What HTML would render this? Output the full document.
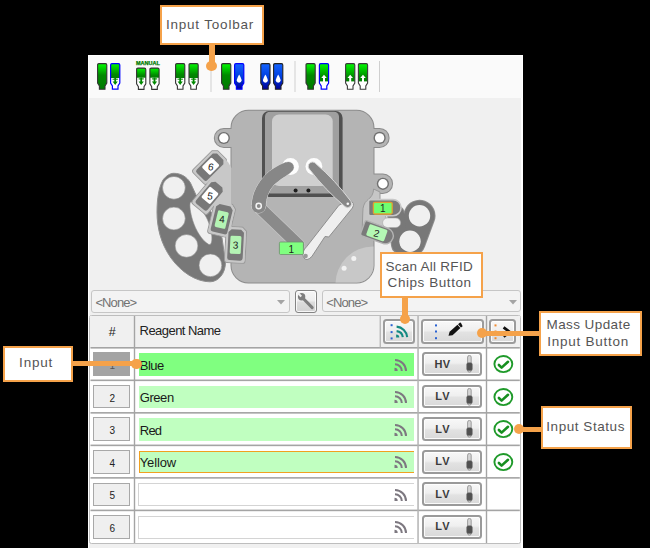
<!DOCTYPE html>
<html><head><meta charset="utf-8">
<style>
*{box-sizing:border-box;margin:0;padding:0}
html,body{width:650px;height:548px;background:#000;overflow:hidden}
body{position:relative;font-family:"Liberation Sans",sans-serif}
.a{position:absolute}
.t{position:absolute;white-space:nowrap;line-height:1}
.co{position:absolute;background:#fff;border:2px solid #f5a24a;z-index:20}
.ct{position:absolute;white-space:nowrap;line-height:1;font-size:13.5px;color:#555;z-index:21}
.ol{position:absolute;background:#f5a24a;z-index:20}
.od{position:absolute;background:#f5a24a;border-radius:50%;z-index:20}
.btn{position:absolute;border:2px solid #9c9c9c;border-radius:3.5px;background:linear-gradient(#f8f8f8,#efefef 45%,#e2e2e2 55%,#d9d9d9);box-shadow:inset 0 0 0 1px rgba(255,255,255,0.85)}
.num{position:absolute;left:93.2px;width:37px;height:23.5px;background:#efefef;border:1.5px solid #a8a8a8;font-size:10px;color:#222;text-align:center;line-height:20.5px}
.fld{position:absolute;left:138.7px;width:275.3px;height:22.5px;font-size:12.5px;color:#1a1a1a;line-height:22.5px;padding-left:2.5px;letter-spacing:-0.3px}
.lv{position:absolute;left:421.8px;width:60.6px;height:23.8px;border:2px solid #9a9a9a;border-radius:3.5px;background:linear-gradient(#f8f8f8,#efefef 45%,#e2e2e2 55%,#d9d9d9);box-shadow:inset 0 0 0 1px rgba(255,255,255,0.85)}
.lv b{position:absolute;left:11.6px;top:5.2px;font-size:11px;color:#3c3c3c;letter-spacing:0.2px;line-height:1}
</style></head><body>

<!-- panel -->
<div class="a" style="left:88px;top:55px;width:435px;height:493px;background:#f0f0f0;border:1px solid #fff;border-right:2px solid #fff;border-bottom:none"></div>
<div class="a" style="left:89px;top:56px;width:432.6px;height:41.8px;background:#fafafa"></div>

<!-- toolbar icons -->
<svg class="a" style="left:0;top:0" width="650" height="100" viewBox="0 0 650 100">
<defs>
 <linearGradient id="gG" x1="0" y1="0" x2="0" y2="1"><stop offset="0" stop-color="#00ff00"/><stop offset="0.45" stop-color="#008a00"/><stop offset="1" stop-color="#007a00"/></linearGradient>
 <linearGradient id="gG2" x1="0" y1="0" x2="0" y2="1"><stop offset="0" stop-color="#00ff00"/><stop offset="0.75" stop-color="#008a00"/><stop offset="1" stop-color="#008000"/></linearGradient>
 <linearGradient id="gB" x1="0" y1="0" x2="0" y2="1"><stop offset="0" stop-color="#1464ff"/><stop offset="0.5" stop-color="#0040e0"/><stop offset="1" stop-color="#000096"/></linearGradient>
 <path id="vial" d="M0.6,2 Q0.6,0.6 2,0.6 H8.4 Q9.8,0.6 9.8,2 V20 L8,23 V26.2 H2.4 V23 L0.6,20 Z"/>
 <clipPath id="vc"><use href="#vial"/></clipPath>
 <path id="vialS" d="M0.6,2 Q0.6,0.6 2,0.6 H8.4 Q9.8,0.6 9.8,2 V16.3 L8,19.1 V21.9 H2.4 V19.1 L0.6,16.3 Z"/>
 <clipPath id="vcS"><use href="#vialS"/></clipPath>
 <g id="vDS"><use href="#vialS" fill="#fff"/><rect x="0" y="0" width="11" height="10.2" fill="url(#gG2)" clip-path="url(#vcS)"/><path d="M4.3,10 V14 H2.6 L5.2,17.4 L7.8,14 H6.1 V10 Z" fill="#008800"/><path d="M2.6,11.4 H7.8" stroke="#008800" stroke-width="1.1"/><use href="#vialS" fill="none" stroke="#333" stroke-width="1.1"/></g>
 <g id="vG"><use href="#vial" fill="url(#gG)" stroke="#333" stroke-width="1.1"/></g>
 <g id="vB"><use href="#vial" fill="url(#gB)" stroke="#222" stroke-width="1.1"/><path d="M5.2,11.5 C5.2,11.5 2.8,15.5 2.8,17.3 A2.4,2.4 0 0 0 7.6,17.3 C7.6,15.5 5.2,11.5 5.2,11.5 Z" fill="#fff"/></g>
 <g id="vBo"><use href="#vial" fill="url(#gB)" stroke="#0000ff" stroke-width="1.2"/><path d="M5.2,11.5 C5.2,11.5 2.8,15.5 2.8,17.3 A2.4,2.4 0 0 0 7.6,17.3 C7.6,15.5 5.2,11.5 5.2,11.5 Z" fill="#fff"/></g>
 <g id="vD"><use href="#vial" fill="#fff"/><rect x="0" y="0" width="11" height="15" fill="url(#gG2)" clip-path="url(#vc)"/><path d="M4.3,15 V18.5 H2.6 L5.2,22 L7.8,18.5 H6.1 V15 Z" fill="#008800"/><path d="M2.5,16.2 H7.9" stroke="#008800" stroke-width="1"/></g>
 <g id="vU"><use href="#vial" fill="#fff"/><rect x="0" y="0" width="11" height="18.4" fill="url(#gG2)" clip-path="url(#vc)"/><path d="M4.2,22.5 V15 H2.4 L5.2,11.8 L8,15 H6.2 V22.5 Z" fill="#fff"/></g>
</defs>
<use href="#vG" x="97" y="63"/>
<g><use href="#vD" x="110" y="63"/><use href="#vial" x="110" y="63" fill="none" stroke="#0000ff" stroke-width="1.2"/></g>
<text x="136" y="64.6" font-family="Liberation Sans" font-weight="bold" font-size="5" fill="#007a00" stroke="#007a00" stroke-width="0.25" textLength="23.8" lengthAdjust="spacingAndGlyphs">MANUAL</text>
<use href="#vDS" x="136" y="67.5"/>
<use href="#vDS" x="149.3" y="67.5"/>
<g><use href="#vD" x="175" y="63"/><use href="#vial" x="175" y="63" fill="none" stroke="#333" stroke-width="1.1"/></g>
<g><use href="#vD" x="188.4" y="63"/><use href="#vial" x="188.4" y="63" fill="none" stroke="#333" stroke-width="1.1"/></g>
<rect x="210.5" y="61" width="1" height="31" fill="#cfcfcf"/>
<use href="#vG" x="221" y="63"/>
<use href="#vBo" x="234" y="63"/>
<use href="#vB" x="260.2" y="63"/>
<use href="#vB" x="273" y="63"/>
<rect x="294.5" y="61" width="1" height="31" fill="#cfcfcf"/>
<use href="#vG" x="305.4" y="63"/>
<g><use href="#vU" x="318.8" y="63"/><use href="#vial" x="318.8" y="63" fill="none" stroke="#0000ff" stroke-width="1.2"/></g>
<g><use href="#vU" x="345" y="63"/><use href="#vial" x="345" y="63" fill="none" stroke="#3a3a3a" stroke-width="1.1"/></g>
<g><use href="#vU" x="357.8" y="63"/><use href="#vial" x="357.8" y="63" fill="none" stroke="#3a3a3a" stroke-width="1.1"/></g>
<rect x="379" y="61" width="1" height="31" fill="#cfcfcf"/>
</svg>


<!-- DEVICE -->
<svg class="a" style="left:0;top:0" width="650" height="548" viewBox="0 0 650 548">
<defs>
 <clipPath id="bodyclip"><rect x="231.5" y="110.8" width="142" height="171.7" rx="17"/></clipPath>
</defs>
<!-- left rack -->
<g>
 <path d="M173.9,173.3 C181,173.3 187,177 190.5,183 L196,195 L212,213 L222,238 L225.5,262 C225.5,274 218,281.8 210,281.8 C196,281.8 181,272 171,258 C161,244 157,228 157,212 C157,198 159,187 163,180 C166,176 170,173.3 173.9,173.3 Z" fill="#787878" stroke="#8e8e8e" stroke-width="1"/>
 <g fill="#f0f0f0" stroke="#8a8a8a" stroke-width="0.6">
 <circle cx="173.9" cy="187.8" r="11.4"/>
 <circle cx="173.9" cy="218.5" r="11.4"/>
 <circle cx="186.5" cy="245.9" r="11.4"/>
 <circle cx="210.4" cy="265.3" r="11.4"/>
 <path d="M190.5,202 C193.5,201.5 199,207 203,212 C207.5,218 211,227 211.8,236 C212.3,242 211,245.5 208.5,244.3 C202,240.5 196,231 192.5,220 C190.5,213 189,205 190.5,202 Z"/>
 </g>
</g>
<!-- right rack -->
<g>
 <path d="M419.5,215.7 L410,241.3" fill="none" stroke="#8e8e8e" stroke-width="32" stroke-linecap="round"/>
 <path d="M396,214 L400,245" fill="none" stroke="#8e8e8e" stroke-width="18" stroke-linecap="round"/>
 <path d="M419.5,215.7 L410,241.3" fill="none" stroke="#787878" stroke-width="30" stroke-linecap="round"/>
 <path d="M396,214 L400,245" fill="none" stroke="#787878" stroke-width="16" stroke-linecap="round"/>
 <circle cx="419.5" cy="215.7" r="10.7" fill="#f0f0f0"/>
 <circle cx="410" cy="241.3" r="10.7" fill="#f0f0f0"/>
</g>
<!-- body outline + fill -->
<g fill="#8c8c8c" stroke="#8c8c8c" stroke-width="2" stroke-linejoin="round">
 <rect x="231.5" y="110.8" width="142" height="171.7" rx="17"/>
 <path d="M233,129 H223.8 A9,9 0 0 0 223.8,147 H233 Z"/>
 <path d="M372,128.9 H379.6 A9,9 0 0 1 379.6,146.9 H372 Z"/>
 <path d="M372,174.6 H382.9 A9.2,9.2 0 0 1 382.9,193 H372 Z"/>
</g>
<g fill="#b4b4b4">
 <rect x="231.5" y="110.8" width="142" height="171.7" rx="17"/>
 <path d="M233,129 H223.8 A9,9 0 0 0 223.8,147 H233 Z"/>
 <path d="M372,128.9 H379.6 A9,9 0 0 1 379.6,146.9 H372 Z"/>
 <path d="M372,174.6 H382.9 A9.2,9.2 0 0 1 382.9,193 H372 Z"/>
</g>
<g>
 <circle cx="223.8" cy="138" r="6.1" fill="#707070"/><circle cx="223.8" cy="138" r="4.7" fill="#fff"/>
 <circle cx="379.6" cy="137.9" r="6.1" fill="#707070"/><circle cx="379.6" cy="137.9" r="4.7" fill="#fff"/>
 <circle cx="382.9" cy="183.8" r="6.1" fill="#707070"/><circle cx="382.9" cy="183.8" r="4.7" fill="#fff"/>
</g>
<!-- bottom right light circle -->
<g clip-path="url(#bodyclip)">
 <circle cx="373" cy="284" r="37.5" fill="#c8c8c8"/>
</g>
<circle cx="353.8" cy="258.5" r="2.5" fill="#f2f2f2"/>
<circle cx="344.1" cy="268.2" r="2.5" fill="#f2f2f2"/>
<!-- inner frame -->
<rect x="262" y="111" width="80.6" height="86" rx="7" fill="#505050"/>
<rect x="265" y="111.8" width="74" height="81.7" rx="5" fill="#a0a0a0"/>
<rect x="272" y="114.5" width="60.7" height="71.5" rx="7" fill="#cfcfcf"/>
<circle cx="295.6" cy="190.5" r="2" fill="#1e1e1e"/>
<circle cx="308.4" cy="190.5" r="2" fill="#1e1e1e"/>
<!-- white rings -->
<circle cx="290.5" cy="166.5" r="8.4" fill="#fdfdfd"/>
<circle cx="313.9" cy="166.5" r="8.4" fill="#fdfdfd"/>
<!-- left lower arm -->
<path d="M259.5,207.5 L298.5,245" stroke="#c4c4c4" stroke-width="13" stroke-linecap="round"/>
<path d="M259.5,207.5 L298.5,245" stroke="#8a8a8a" stroke-width="11.5" stroke-linecap="round"/>
<!-- left upper arm -->
<g fill="#878787" stroke="#dadada" stroke-width="1">
 <path d="M286,162.3 C277,166 270,170 265,175.5 C258,183 252,193 251.7,206 L265.7,206 C266,198 268.5,191 273,186 C277.5,181 283,178 290.5,172.6 Z"/>
 <circle cx="288.4" cy="167.3" r="5.3"/>
 <circle cx="258.7" cy="206" r="7"/>
</g>
<g fill="#878787">
 <path d="M286,162.3 C277,166 270,170 265,175.5 C258,183 252,193 251.7,206 L265.7,206 C266,198 268.5,191 273,186 C277.5,181 283,178 290.5,172.6 Z"/>
 <circle cx="288.4" cy="167.3" r="5.3"/>
 <circle cx="258.7" cy="206" r="7"/>
</g>
<circle cx="258.7" cy="206" r="3.4" fill="#f4f4f4"/>
<circle cx="258.7" cy="206" r="1.9" fill="#8a8a8a"/>
<!-- right lower arm -->
<path d="M349.5,199.8 L339,205.2 L307.1,246.1 Q301,252 303.5,257.5 Q306.5,262 311.8,256.6 L325,236.5 L328.8,237 L352.4,208 Q355.5,203 349.5,199.8 Z" fill="#efefef" stroke="#8e8e8e" stroke-width="1"/>
<circle cx="305.6" cy="256" r="2.2" fill="#9a9a9a"/>
<!-- right upper arm -->
<path d="M315.6,163.4 Q335.35,180.45 350.9,201.3 A4,4 0 0 1 345.1,206.7 Q325.15,189.85 309.4,169.2 A4.2,4.2 0 0 1 315.6,163.4 Z" fill="#878787" stroke="#d8d8d8" stroke-width="1"/>
<circle cx="347.8" cy="203.8" r="1.3" fill="#fafafa"/>
<!-- label 1 bottom -->
<rect x="279.4" y="242" width="24" height="12.5" rx="1.2" fill="#80ff80" stroke="#6e8e6e" stroke-width="0.8"/>
<text x="291.4" y="252.6" font-family="Liberation Sans" font-size="10" fill="#222" text-anchor="middle">1</text>

<!-- left holders backing -->
<g fill="#c8c8c8" stroke="#9a9a9a" stroke-width="1">
 <path d="M-10.0,-12.5 L-6.0,-16.5 H6.0 L10.0,-12.5 V14.0 Q10.0,16.5 7.5,16.5 H-7.5 Q-10.0,16.5 -10.0,14.0 Z" transform="translate(210.3,166.6) rotate(45)"/>
 <path d="M-10.0,-13.0 L-6.0,-17.0 H6.0 L10.0,-13.0 V14.5 Q10.0,17.0 7.5,17.0 H-7.5 Q-10.0,17.0 -10.0,14.5 Z" transform="translate(209.6,195.8) rotate(40)"/>
 <path d="M-11.0,-12.75 L-7.0,-16.75 H7.0 L11.0,-12.75 V14.25 Q11.0,16.75 8.5,16.75 H-8.5 Q-11.0,16.75 -11.0,14.25 Z" transform="translate(221.8,219.1) rotate(13.5)"/>
 <path d="M-10.25,-14.0 L-6.25,-18.0 H6.25 L10.25,-14.0 V15.5 Q10.25,18.0 7.75,18.0 H-7.75 Q-10.25,18.0 -10.25,15.5 Z" transform="translate(235.6,244.9) rotate(3)"/>
</g>
<path d="M210.3,166.6 L222,157 L228,162 L231.5,168 L231.5,262 L235.6,244.9 L221.8,219.1 L209.6,195.8 Z" fill="#c8c8c8"/>
<g fill="#c8c8c8">
 <path d="M-9.5,-12.0 L-5.5,-16.0 H5.5 L9.5,-12.0 V13.5 Q9.5,16.0 7.0,16.0 H-7.0 Q-9.5,16.0 -9.5,13.5 Z" transform="translate(210.3,166.6) rotate(45)"/>
 <path d="M-9.5,-12.5 L-5.5,-16.5 H5.5 L9.5,-12.5 V14.0 Q9.5,16.5 7.0,16.5 H-7.0 Q-9.5,16.5 -9.5,14.0 Z" transform="translate(209.6,195.8) rotate(40)"/>
 <path d="M-10.5,-12.25 L-6.5,-16.25 H6.5 L10.5,-12.25 V13.75 Q10.5,16.25 8.0,16.25 H-8.0 Q-10.5,16.25 -10.5,13.75 Z" transform="translate(221.8,219.1) rotate(13.5)"/>
 <path d="M-9.75,-13.5 L-5.75,-17.5 H5.75 L9.75,-13.5 V15.0 Q9.75,17.5 7.25,17.5 H-7.25 Q-9.75,17.5 -9.75,15.0 Z" transform="translate(235.6,244.9) rotate(3)"/>
</g>
<!-- left holders -->
<g transform="translate(210.3,166.6) rotate(45)">
 <path d="M-7.5,-11.0 L-4.5,-14.0 H4.5 L7.5,-11.0 V11.5 Q7.5,14.0 5.0,14.0 H-5.0 Q-7.5,14.0 -7.5,11.5 Z" fill="#787878"/>
 <rect x="-5.8" y="-7.5" width="11.6" height="14" rx="1.5" fill="#fff"/>
</g>
<g transform="translate(209.6,195.8) rotate(40)">
 <path d="M-7.5,-11.5 L-4.5,-14.5 H4.5 L7.5,-11.5 V12.0 Q7.5,14.5 5.0,14.5 H-5.0 Q-7.5,14.5 -7.5,12.0 Z" fill="#787878"/>
 <rect x="-5.8" y="-7.5" width="11.6" height="14" rx="1.5" fill="#fff"/>
</g>
<g transform="translate(221.8,219.1) rotate(13.5)">
 <path d="M-8.5,-11.25 L-5.5,-14.25 H5.5 L8.5,-11.25 V11.75 Q8.5,14.25 6.0,14.25 H-6.0 Q-8.5,14.25 -8.5,11.75 Z" fill="#787878"/>
 <rect x="-5.5" y="-8.0" width="11" height="17" rx="1.5" fill="#b4f4b4"/>
</g>
<g transform="translate(235.6,244.9) rotate(3)">
 <path d="M-7.75,-12.5 L-4.75,-15.5 H4.75 L7.75,-12.5 V13.0 Q7.75,15.5 5.25,15.5 H-5.25 Q-7.75,15.5 -7.75,13.0 Z" fill="#787878"/>
 <rect x="-5.5" y="-9.0" width="11" height="18" rx="1.5" fill="#b4f4b4"/>
</g>
<g font-family="Liberation Sans" font-size="10" fill="#222" text-anchor="middle">
 <text transform="translate(210.3,170.2) rotate(11.2)">6</text>
 <text transform="translate(209.6,199.4) rotate(10.0)">5</text>
 <text transform="translate(221.8,222.7) rotate(3.4)">4</text>
 <text transform="translate(235.6,248.5) rotate(0.8)">3</text>
</g>

<!-- right holders backing -->
<path d="M373.6,189 Q373.5,196 367,200.5 Q362.8,204 362.8,212 L362,236 L378,240 L386,227.5 L386,217.5 L380,206 L380,192 Z" fill="#c6c6c6" stroke="#9a9a9a" stroke-width="1"/>
<rect x="382.6" y="218" width="18" height="9.5" rx="4.7" fill="#f0f0f0" stroke="#a8a8a8" stroke-width="0.6"/>
<!-- holder 1 -->
<path d="M370.5,199.6 H393 A8,8 0 0 1 393,215.7 H370.5 Q368.5,215.7 368.5,213.7 V201.6 Q368.5,199.6 370.5,199.6 Z" fill="#7a7a7a" stroke="#c8c8c8" stroke-width="1.6"/>
<rect x="373.4" y="202.3" width="18.8" height="11.7" rx="1.5" fill="#70ff70" stroke="#e0a030" stroke-width="1.3"/>
<text x="382.8" y="212.2" font-family="Liberation Sans" font-size="10" fill="#222" text-anchor="middle">1</text>
<!-- holder 2 -->
<g transform="translate(377.8,233.1) rotate(20)">
 <path d="M-14,-8 H8 A8,8 0 0 1 8,8 H-14 Q-16,8 -16,6 V-6 Q-16,-8 -14,-8 Z" fill="#7a7a7a" stroke="#b4b4b4" stroke-width="1.4"/>
 <rect x="-10.5" y="-6" width="19" height="12" rx="1.5" fill="#b4f8b4"/>
 <text x="-1" y="4" font-family="Liberation Sans" font-size="10" fill="#222" text-anchor="middle" transform="rotate(-5)">2</text>
</g>
</svg>



<!-- dropdowns -->
<div class="a" style="left:91px;top:290.4px;width:198.6px;height:22.3px;border:1.5px solid #c6c6c6;border-radius:3px;background:#f3f3f3"></div>
<div class="t" style="left:95.4px;top:295.6px;font-size:13px;color:#727272;letter-spacing:-0.9px">&lt;None&gt;</div>
<svg class="a" style="left:277px;top:300.3px" width="8" height="5"><path d="M0,0 H8 L4,4.5 Z" fill="#a4a4a4"/></svg>
<div class="a" style="left:295px;top:290.1px;width:21.6px;height:22.7px;border:1.6px solid #848484;border-radius:3px;background:linear-gradient(#f6f6f6,#eeeeee 45%,#dcdcdc 55%,#d2d2d2);box-shadow:inset 0 0 0 1px rgba(255,255,255,0.8)"></div>
<svg class="a" style="left:294.8px;top:290px" width="23" height="23" viewBox="0 0 23 23"><path d="M7.5,7.8 L17.2,17.6" stroke="#7e7e7e" stroke-width="3" stroke-linecap="round"/><circle cx="6.6" cy="6.8" r="3.7" fill="#7e7e7e"/><rect x="-1.1" y="-3" width="2.2" height="4" fill="#efefef" transform="translate(5.5,5.7) rotate(-45)"/></svg>
<div class="a" style="left:322.2px;top:290.4px;width:199px;height:22px;border:1.5px solid #c6c6c6;border-radius:3px;background:#f3f3f3"></div>
<div class="t" style="left:326.3px;top:295.6px;font-size:13px;color:#727272;letter-spacing:-0.9px">&lt;None&gt;</div>
<svg class="a" style="left:508.5px;top:300px" width="8" height="5"><path d="M0,0 H8 L4,4.5 Z" fill="#a4a4a4"/></svg>
<!-- table -->
<div class="a" style="left:89px;top:315px;width:432px;height:229px;background:#fff;border:1px solid #bdbdbd;border-radius:2.5px"></div>
<div class="a" style="left:90px;top:316px;width:430px;height:31.5px;background:#f0f0f0"></div>
<svg class="a" style="left:0;top:0" width="650" height="548" viewBox="0 0 650 548">
<g fill="#a4a4a4">
<rect x="90.5" y="347.00" width="429.3" height="1.6"/>
<rect x="90.5" y="379.52" width="429.3" height="1.6"/>
<rect x="90.5" y="412.04" width="429.3" height="1.6"/>
<rect x="90.5" y="444.56" width="429.3" height="1.6"/>
<rect x="90.5" y="477.08" width="429.3" height="1.6"/>
<rect x="90.5" y="509.60" width="429.3" height="1.6"/>
<rect x="133.8" y="316" width="1.4" height="227"/>
<rect x="417.3" y="316" width="1.5" height="227" fill="#b4b4b4"/>
<rect x="485.8" y="316" width="1.4" height="227"/>
<rect x="379.6" y="316" width="1.3" height="31.5" fill="#b4b4b4"/>
</g>
</svg>
<div class="t" style="left:108.8px;top:326px;font-size:12.5px;color:#222">#</div>
<div class="t" style="left:139.6px;top:324.2px;font-size:13px;color:#222;letter-spacing:-0.55px">Reagent Name</div>
<div class="btn" style="left:382.6px;top:318.6px;width:32.5px;height:25.9px"></div>
<svg class="a" style="left:382.6px;top:318.6px" width="33" height="26" viewBox="0 0 33 26">
 <g fill="#2a62d2"><rect x="7.6" y="5.2" width="2" height="2"/><rect x="7.6" y="12.1" width="2" height="2"/><rect x="7.6" y="18.4" width="2" height="2"/></g>
 <g fill="none" stroke="#148a82" stroke-width="2.1" stroke-linecap="butt">
  <path d="M13.6,7.6 A11.6,11.6 0 0 1 24.2,18.2"/>
  <path d="M13.6,12.1 A7,7 0 0 1 19.8,18.2"/>
 </g>
 <path d="M13.1,15.4 A3.2,3.2 0 0 1 16.3,18.6 H13.1 Z" fill="#148a82"/>
</svg>
<div class="btn" style="left:420.9px;top:318.8px;width:62.7px;height:25.6px"></div>
<svg class="a" style="left:420.9px;top:318.8px" width="63" height="26" viewBox="0 0 63 26">
 <g fill="#2a62d2"><rect x="14" y="5.4" width="2" height="2"/><rect x="14" y="11.5" width="2" height="2"/><rect x="14" y="18.2" width="2" height="2"/></g>
 <path d="M27.5,16.8 L28.63,12.86 L36.43,5.82 L39.37,9.1 L31.57,16.14 Z" fill="#111"/>
 <path d="M37.03,5.26 L38.73,3.86 Q39.4,3.3 40,3.9 L41.67,7.14 L39.97,8.54 Z" fill="#111"/>
</svg>
<div class="btn" style="left:489.2px;top:318.8px;width:27.2px;height:25.6px"></div>
<svg class="a" style="left:489.2px;top:318.8px" width="28" height="26" viewBox="0 0 28 26">
 <g fill="#f08a30"><rect x="5.5" y="5.4" width="2" height="2"/><rect x="5.5" y="11.5" width="2" height="2"/><rect x="5.5" y="18.2" width="2" height="2"/></g>
 <path d="M14.6,8.3 L20.6,13 L14.6,17.7" fill="none" stroke="#111" stroke-width="2.8"/>
</svg>
<div class="num" style="top:352.4px;background:#a4a4a4;border-color:#a4a4a4"></div>
<div class="t" style="left:109.2px;top:361.0px;font-size:10px;color:#555;width:6px;text-align:center">1</div>
<div class="fld" style="top:353.3px;background:#80ff80;"></div>
<div class="t" style="left:139.8px;top:358.6px;font-size:13px;color:#1a1a1a;letter-spacing:-0.5px">Blue</div>
<svg class="a" style="left:394px;top:358.6px" width="13" height="13" viewBox="0 0 13 13">
 <g fill="none" stroke="#7d7880" stroke-width="2">
  <path d="M1,1 A11,11 0 0 1 12,12"/>
  <path d="M1,5.2 A6.8,6.8 0 0 1 7.8,12"/>
 </g>
 <path d="M0.5,8.8 A3.2,3.2 0 0 1 3.7,12 H0.5 Z" fill="#7d7880"/>
</svg>
<div class="lv" style="top:352.2px"><b style="left:10.6px;top:4.5px;letter-spacing:0.4px">HV</b></div>
<svg class="a" style="left:465.5px;top:355.2px" width="7" height="18" viewBox="0 0 7 18">
 <rect x="1.6" y="0.4" width="3.6" height="16.8" rx="1.8" fill="#d4d4d4" stroke="#8c8c8c" stroke-width="0.8"/>
 <rect x="0.7" y="7.8" width="5.6" height="7.8" rx="1.6" fill="#505050" stroke="#6a6a6a" stroke-width="0.5"/>
</svg>
<svg class="a" style="left:493px;top:354.1px" width="21" height="21" viewBox="0 0 21 21">
 <ellipse cx="10.35" cy="10.1" rx="8.95" ry="8.05" fill="none" stroke="#1f9a2a" stroke-width="1.9"/>
 <path d="M5.9,11 L8.6,13.6 L15,7.8" fill="none" stroke="#168f1f" stroke-width="2.6" stroke-linecap="round" stroke-linejoin="round"/>
</svg>
<div class="num" style="top:384.9px"></div>
<div class="t" style="left:109.2px;top:393.5px;font-size:10px;color:#222;width:6px;text-align:center">2</div>
<div class="fld" style="top:385.8px;background:#c0ffc0;"></div>
<div class="t" style="left:139.8px;top:391.1px;font-size:13px;color:#1a1a1a;letter-spacing:-0.45px">Green</div>
<svg class="a" style="left:394px;top:391.1px" width="13" height="13" viewBox="0 0 13 13">
 <g fill="none" stroke="#7d7880" stroke-width="2">
  <path d="M1,1 A11,11 0 0 1 12,12"/>
  <path d="M1,5.2 A6.8,6.8 0 0 1 7.8,12"/>
 </g>
 <path d="M0.5,8.8 A3.2,3.2 0 0 1 3.7,12 H0.5 Z" fill="#7d7880"/>
</svg>
<div class="lv" style="top:384.7px"><b style="left:11.5px;top:4.6px;letter-spacing:1.1px">LV</b></div>
<svg class="a" style="left:465.5px;top:387.7px" width="7" height="18" viewBox="0 0 7 18">
 <rect x="1.6" y="0.4" width="3.6" height="16.8" rx="1.8" fill="#d4d4d4" stroke="#8c8c8c" stroke-width="0.8"/>
 <rect x="0.7" y="7.8" width="5.6" height="7.8" rx="1.6" fill="#505050" stroke="#6a6a6a" stroke-width="0.5"/>
</svg>
<svg class="a" style="left:493px;top:386.6px" width="21" height="21" viewBox="0 0 21 21">
 <ellipse cx="10.35" cy="10.1" rx="8.95" ry="8.05" fill="none" stroke="#1f9a2a" stroke-width="1.9"/>
 <path d="M5.9,11 L8.6,13.6 L15,7.8" fill="none" stroke="#168f1f" stroke-width="2.6" stroke-linecap="round" stroke-linejoin="round"/>
</svg>
<div class="num" style="top:417.4px"></div>
<div class="t" style="left:109.2px;top:426.0px;font-size:10px;color:#222;width:6px;text-align:center">3</div>
<div class="fld" style="top:418.3px;background:#c0ffc0;"></div>
<div class="t" style="left:139.8px;top:423.6px;font-size:13px;color:#1a1a1a;letter-spacing:-0.8px">Red</div>
<svg class="a" style="left:394px;top:423.6px" width="13" height="13" viewBox="0 0 13 13">
 <g fill="none" stroke="#7d7880" stroke-width="2">
  <path d="M1,1 A11,11 0 0 1 12,12"/>
  <path d="M1,5.2 A6.8,6.8 0 0 1 7.8,12"/>
 </g>
 <path d="M0.5,8.8 A3.2,3.2 0 0 1 3.7,12 H0.5 Z" fill="#7d7880"/>
</svg>
<div class="lv" style="top:417.2px"><b style="left:11.5px;top:4.6px;letter-spacing:1.1px">LV</b></div>
<svg class="a" style="left:465.5px;top:420.2px" width="7" height="18" viewBox="0 0 7 18">
 <rect x="1.6" y="0.4" width="3.6" height="16.8" rx="1.8" fill="#d4d4d4" stroke="#8c8c8c" stroke-width="0.8"/>
 <rect x="0.7" y="7.8" width="5.6" height="7.8" rx="1.6" fill="#505050" stroke="#6a6a6a" stroke-width="0.5"/>
</svg>
<svg class="a" style="left:493px;top:419.1px" width="21" height="21" viewBox="0 0 21 21">
 <ellipse cx="10.35" cy="10.1" rx="8.95" ry="8.05" fill="none" stroke="#1f9a2a" stroke-width="1.9"/>
 <path d="M5.9,11 L8.6,13.6 L15,7.8" fill="none" stroke="#168f1f" stroke-width="2.6" stroke-linecap="round" stroke-linejoin="round"/>
</svg>
<div class="num" style="top:450.0px"></div>
<div class="t" style="left:109.2px;top:458.6px;font-size:10px;color:#222;width:6px;text-align:center">4</div>
<div class="fld" style="top:450.9px;background:#c0ffc0;border:1.5px solid #f0a020;border-right:none;"></div>
<div class="t" style="left:139.8px;top:456.2px;font-size:13px;color:#1a1a1a;letter-spacing:-0.15px">Yellow</div>
<svg class="a" style="left:394px;top:456.2px" width="13" height="13" viewBox="0 0 13 13">
 <g fill="none" stroke="#7d7880" stroke-width="2">
  <path d="M1,1 A11,11 0 0 1 12,12"/>
  <path d="M1,5.2 A6.8,6.8 0 0 1 7.8,12"/>
 </g>
 <path d="M0.5,8.8 A3.2,3.2 0 0 1 3.7,12 H0.5 Z" fill="#7d7880"/>
</svg>
<div class="lv" style="top:449.8px"><b style="left:11.5px;top:4.6px;letter-spacing:1.1px">LV</b></div>
<svg class="a" style="left:465.5px;top:452.8px" width="7" height="18" viewBox="0 0 7 18">
 <rect x="1.6" y="0.4" width="3.6" height="16.8" rx="1.8" fill="#d4d4d4" stroke="#8c8c8c" stroke-width="0.8"/>
 <rect x="0.7" y="7.8" width="5.6" height="7.8" rx="1.6" fill="#505050" stroke="#6a6a6a" stroke-width="0.5"/>
</svg>
<svg class="a" style="left:493px;top:451.7px" width="21" height="21" viewBox="0 0 21 21">
 <ellipse cx="10.35" cy="10.1" rx="8.95" ry="8.05" fill="none" stroke="#1f9a2a" stroke-width="1.9"/>
 <path d="M5.9,11 L8.6,13.6 L15,7.8" fill="none" stroke="#168f1f" stroke-width="2.6" stroke-linecap="round" stroke-linejoin="round"/>
</svg>
<div class="num" style="top:482.5px"></div>
<div class="t" style="left:109.2px;top:491.1px;font-size:10px;color:#222;width:6px;text-align:center">5</div>
<div class="fld" style="left:138.2px;width:275.8px;top:483.2px;height:23.2px;background:#fff;border:1.5px solid #d4d4d4;border-right:none"></div>
<svg class="a" style="left:394px;top:488.7px" width="13" height="13" viewBox="0 0 13 13">
 <g fill="none" stroke="#7d7880" stroke-width="2">
  <path d="M1,1 A11,11 0 0 1 12,12"/>
  <path d="M1,5.2 A6.8,6.8 0 0 1 7.8,12"/>
 </g>
 <path d="M0.5,8.8 A3.2,3.2 0 0 1 3.7,12 H0.5 Z" fill="#7d7880"/>
</svg>
<div class="lv" style="top:482.3px"><b style="left:11.5px;top:4.6px;letter-spacing:1.1px">LV</b></div>
<svg class="a" style="left:465.5px;top:485.3px" width="7" height="18" viewBox="0 0 7 18">
 <rect x="1.6" y="0.4" width="3.6" height="16.8" rx="1.8" fill="#d4d4d4" stroke="#8c8c8c" stroke-width="0.8"/>
 <rect x="0.7" y="7.8" width="5.6" height="7.8" rx="1.6" fill="#505050" stroke="#6a6a6a" stroke-width="0.5"/>
</svg>
<div class="num" style="top:515.0px"></div>
<div class="t" style="left:109.2px;top:523.6px;font-size:10px;color:#222;width:6px;text-align:center">6</div>
<div class="fld" style="left:138.2px;width:275.8px;top:515.7px;height:23.2px;background:#fff;border:1.5px solid #d4d4d4;border-right:none"></div>
<svg class="a" style="left:394px;top:521.2px" width="13" height="13" viewBox="0 0 13 13">
 <g fill="none" stroke="#7d7880" stroke-width="2">
  <path d="M1,1 A11,11 0 0 1 12,12"/>
  <path d="M1,5.2 A6.8,6.8 0 0 1 7.8,12"/>
 </g>
 <path d="M0.5,8.8 A3.2,3.2 0 0 1 3.7,12 H0.5 Z" fill="#7d7880"/>
</svg>
<div class="lv" style="top:514.8px"><b style="left:11.5px;top:4.6px;letter-spacing:1.1px">LV</b></div>
<svg class="a" style="left:465.5px;top:517.8px" width="7" height="18" viewBox="0 0 7 18">
 <rect x="1.6" y="0.4" width="3.6" height="16.8" rx="1.8" fill="#d4d4d4" stroke="#8c8c8c" stroke-width="0.8"/>
 <rect x="0.7" y="7.8" width="5.6" height="7.8" rx="1.6" fill="#505050" stroke="#6a6a6a" stroke-width="0.5"/>
</svg>

<!-- CALLOUTS -->
<div class="co" style="left:160px;top:5px;width:103.5px;height:40px"></div>
<div class="ct" style="left:165.9px;top:18.4px;letter-spacing:0.8px">Input Toolbar</div>
<div class="ol" style="left:208.5px;top:44px;width:6px;height:20px"></div>
<div class="od" style="left:206px;top:60.8px;width:11px;height:10.5px"></div>

<div class="co" style="left:380.2px;top:252.4px;width:102.4px;height:45.2px"></div>
<div class="ct" style="left:385.4px;top:260px;letter-spacing:0.27px">Scan All RFID</div>
<div class="ct" style="left:387.6px;top:276.3px;letter-spacing:0.56px">Chips Button</div>
<div class="ol" style="left:402.3px;top:297px;width:5.5px;height:20px"></div>
<div class="od" style="left:399.6px;top:313.6px;width:10.8px;height:10.8px"></div>

<div class="co" style="left:538.8px;top:310.5px;width:102.8px;height:45.7px"></div>
<div class="ct" style="left:546.5px;top:318px;letter-spacing:0.41px">Mass Update</div>
<div class="ct" style="left:547.3px;top:334.6px;letter-spacing:0.73px">Input Button</div>
<div class="ol" style="left:482px;top:330.8px;width:57px;height:5px"></div>
<div class="od" style="left:476.9px;top:328.2px;width:10.2px;height:10.2px"></div>

<div class="co" style="left:3px;top:346px;width:70px;height:35.6px"></div>
<div class="ct" style="left:19.1px;top:356px;letter-spacing:0.8px">Input</div>
<div class="ol" style="left:72px;top:360.9px;width:62px;height:5.6px"></div>
<div class="od" style="left:131.3px;top:358.6px;width:10.4px;height:10.6px"></div>

<div class="co" style="left:540.9px;top:406.2px;width:90.8px;height:42.4px"></div>
<div class="ct" style="left:546.3px;top:420.4px;letter-spacing:0.55px">Input Status</div>
<div class="ol" style="left:518px;top:426.5px;width:23px;height:5px"></div>
<div class="od" style="left:513.5px;top:423.8px;width:10.4px;height:10.4px"></div>

</body></html>
